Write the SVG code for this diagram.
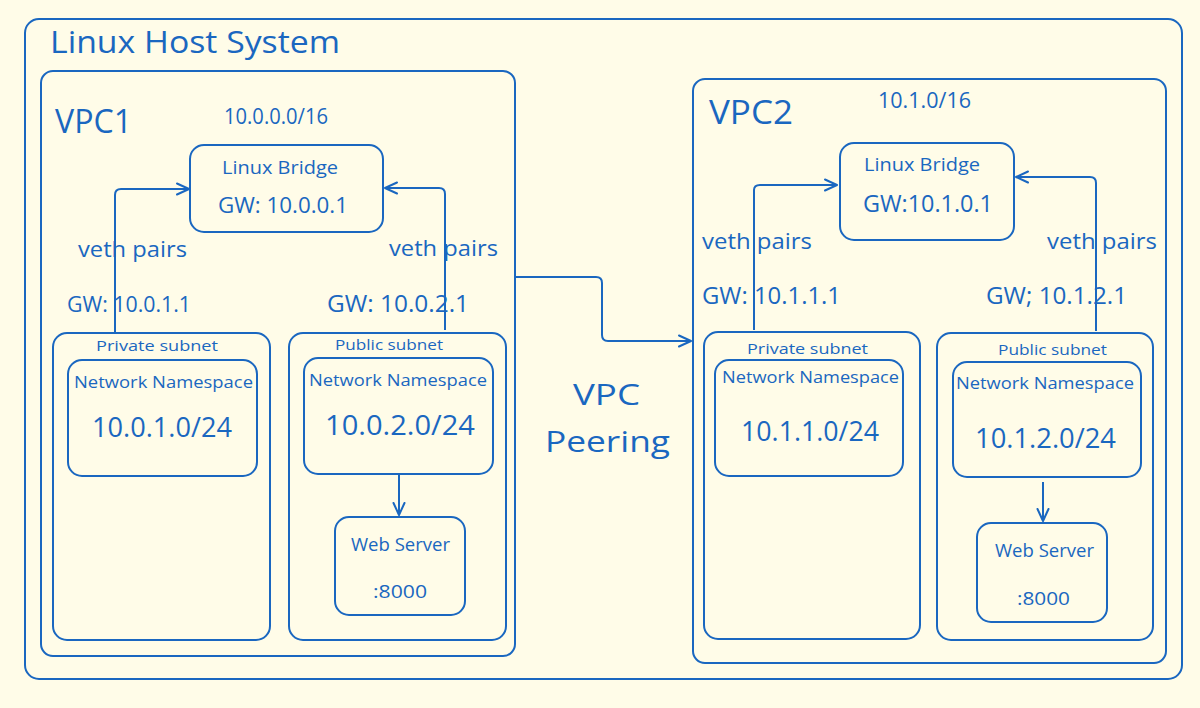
<svg xmlns="http://www.w3.org/2000/svg" width="1200" height="708" viewBox="0 0 1200 708">
<defs>
<style>
.box{fill:none;stroke:#1a67c0;stroke-width:2;}
.ln{fill:none;stroke:#1a67c0;stroke-width:2;stroke-linejoin:round;}
text{font-family:"Open Sans","Liberation Sans",sans-serif;fill:#1a67c0;}
</style>
<marker id="ah" viewBox="0 0 14 14" refX="13" refY="7" markerWidth="14" markerHeight="14" markerUnits="userSpaceOnUse" orient="auto">
<path d="M1,1.5 L13,7 L1,12.5" fill="none" stroke="#1a67c0" stroke-width="2" stroke-linecap="round" stroke-linejoin="round"/>
</marker>
</defs>
<rect width="1200" height="708" fill="#fffce8"/>

<g id="host">
<rect class="box" x="25" y="19" width="1157" height="660" rx="14"/>
<text x="50" y="53" font-size="31" textLength="290" lengthAdjust="spacingAndGlyphs">Linux Host System</text>
</g>

<g id="vpc1">
<rect class="box" x="41" y="71" width="474" height="585" rx="12"/>
<text x="55" y="133" font-size="32" textLength="77" lengthAdjust="spacingAndGlyphs">VPC1</text>
<text x="224" y="124" font-size="21" textLength="104" lengthAdjust="spacingAndGlyphs">10.0.0.0/16</text>
<text x="67" y="312" font-size="21" textLength="124" lengthAdjust="spacingAndGlyphs">GW: 10.0.1.1</text>
<text x="327" y="312" font-size="23" textLength="142" lengthAdjust="spacingAndGlyphs">GW: 10.0.2.1</text>
</g>
<g id="vpc1-bridge">
<rect class="box" x="190" y="145" width="193" height="87" rx="14"/>
<text x="222" y="174" font-size="19" textLength="116" lengthAdjust="spacingAndGlyphs">Linux Bridge</text>
<text x="218" y="213" font-size="22" textLength="130" lengthAdjust="spacingAndGlyphs">GW: 10.0.0.1</text>
</g>
<g id="vpc1-private">
<rect class="box" x="53" y="333" width="217" height="307" rx="14"/>
<text x="96" y="351" font-size="15" textLength="122" lengthAdjust="spacingAndGlyphs">Private subnet</text>
</g>
<g id="vpc1-private-ns">
<rect class="box" x="68" y="360" width="189" height="116" rx="14"/>
<text x="74" y="388" font-size="17" textLength="179" lengthAdjust="spacingAndGlyphs">Network Namespace</text>
<text x="92" y="437" font-size="27" textLength="140" lengthAdjust="spacingAndGlyphs">10.0.1.0/24</text>
</g>
<g id="vpc1-public">
<rect class="box" x="289" y="333" width="217" height="307" rx="14"/>
<text x="335" y="350" font-size="15" textLength="108" lengthAdjust="spacingAndGlyphs">Public subnet</text>
</g>
<g id="vpc1-public-ns">
<rect class="box" x="304" y="358" width="189" height="116" rx="14"/>
<text x="309" y="386" font-size="17" textLength="178" lengthAdjust="spacingAndGlyphs">Network Namespace</text>
<text x="325" y="435" font-size="27" textLength="150" lengthAdjust="spacingAndGlyphs">10.0.2.0/24</text>
</g>
<g id="vpc1-web">
<rect class="box" x="335" y="517" width="130" height="98" rx="14"/>
<text x="351" y="551" font-size="18" textLength="99" lengthAdjust="spacingAndGlyphs">Web Server</text>
<text x="373" y="598" font-size="18" textLength="54" lengthAdjust="spacingAndGlyphs">:8000</text>
</g>

<g id="peering-label">
<text x="573" y="405" font-size="30" textLength="67" lengthAdjust="spacingAndGlyphs">VPC</text>
<text x="545" y="452" font-size="30" textLength="125" lengthAdjust="spacingAndGlyphs">Peering</text>
</g>

<g id="vpc2">
<rect class="box" x="693" y="79" width="473" height="584" rx="12"/>
<text x="709" y="124" font-size="32" textLength="84" lengthAdjust="spacingAndGlyphs">VPC2</text>
<text x="878" y="108" font-size="21" textLength="93" lengthAdjust="spacingAndGlyphs">10.1.0/16</text>
<text x="702" y="304" font-size="23" textLength="139" lengthAdjust="spacingAndGlyphs">GW: 10.1.1.1</text>
<text x="986" y="304" font-size="23" textLength="141" lengthAdjust="spacingAndGlyphs">GW; 10.1.2.1</text>
</g>
<g id="vpc2-bridge">
<rect class="box" x="840" y="143" width="174" height="97" rx="14"/>
<text x="864" y="171" font-size="19" textLength="116" lengthAdjust="spacingAndGlyphs">Linux Bridge</text>
<text x="863" y="212" font-size="23" textLength="130" lengthAdjust="spacingAndGlyphs">GW:10.1.0.1</text>
</g>
<g id="vpc2-private">
<rect class="box" x="704" y="332" width="216" height="307" rx="14"/>
<text x="747" y="354" font-size="15" textLength="121" lengthAdjust="spacingAndGlyphs">Private subnet</text>
</g>
<g id="vpc2-private-ns">
<rect class="box" x="715" y="360" width="188" height="116" rx="14"/>
<text x="722" y="383" font-size="17" textLength="177" lengthAdjust="spacingAndGlyphs">Network Namespace</text>
<text x="741" y="441" font-size="27" textLength="138" lengthAdjust="spacingAndGlyphs">10.1.1.0/24</text>
</g>
<g id="vpc2-public">
<rect class="box" x="937" y="333" width="216" height="307" rx="14"/>
<text x="998" y="355" font-size="15" textLength="109" lengthAdjust="spacingAndGlyphs">Public subnet</text>
</g>
<g id="vpc2-public-ns">
<rect class="box" x="953" y="362" width="188" height="115" rx="14"/>
<text x="956" y="389" font-size="17" textLength="178" lengthAdjust="spacingAndGlyphs">Network Namespace</text>
<text x="975" y="448" font-size="27" textLength="141" lengthAdjust="spacingAndGlyphs">10.1.2.0/24</text>
</g>
<g id="vpc2-web">
<rect class="box" x="977" y="523" width="130" height="99" rx="14"/>
<text x="995" y="557" font-size="18" textLength="99" lengthAdjust="spacingAndGlyphs">Web Server</text>
<text x="1017" y="605" font-size="18" textLength="53" lengthAdjust="spacingAndGlyphs">:8000</text>
</g>

<g id="connectors">
<path class="ln" d="M115,332 L115,195 Q115,189 121,189 L189,189" marker-end="url(#ah)"/>
<path class="ln" d="M445,330 L445,194 Q445,188 439,188 L385,188" marker-end="url(#ah)"/>
<path class="ln" d="M399,475 L399,515" marker-end="url(#ah)"/>
<path class="ln" d="M515,277 L596,277 Q602,277 602,283 L602,335 Q602,341 608,341 L691,341" marker-end="url(#ah)"/>
<path class="ln" d="M754,330 L754,190 Q754,185 760,185 L837,185" marker-end="url(#ah)"/>
<path class="ln" d="M1096,331 L1096,183 Q1096,177 1090,177 L1016,177" marker-end="url(#ah)"/>
<path class="ln" d="M1043,482 L1043,521" marker-end="url(#ah)"/>
</g>
<g id="veth-labels">
<text x="78" y="257" font-size="21" textLength="109" lengthAdjust="spacingAndGlyphs">veth pairs</text>
<text x="389" y="256" font-size="21" textLength="109" lengthAdjust="spacingAndGlyphs">veth pairs</text>
<text x="702" y="249" font-size="21" textLength="110" lengthAdjust="spacingAndGlyphs">veth pairs</text>
<text x="1047" y="249" font-size="21" textLength="110" lengthAdjust="spacingAndGlyphs">veth pairs</text>
</g>
</svg>
